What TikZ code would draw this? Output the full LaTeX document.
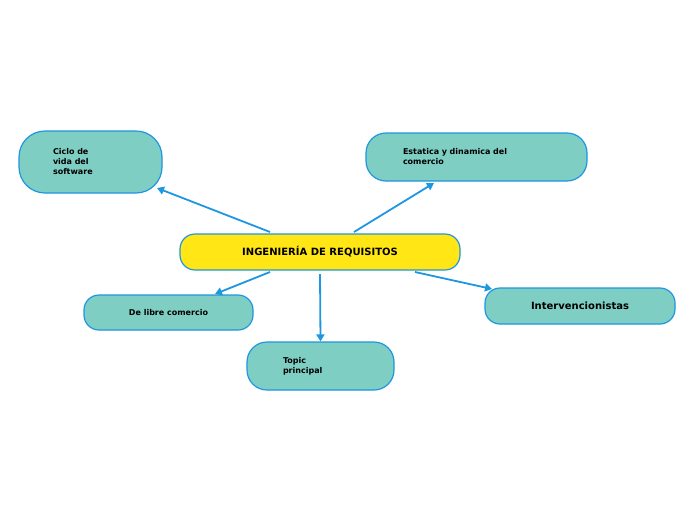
\documentclass[tikz,border=0pt]{standalone}
\usepackage{fontspec}
\setmainfont{DejaVu Sans}
\usetikzlibrary{arrows.meta}
\definecolor{teal1}{HTML}{7ECEC4}
\definecolor{edge1}{HTML}{1E96E0}
\definecolor{yel}{HTML}{FFE614}
\begin{document}
\begin{tikzpicture}[x=1pt,y=-1pt,
  box/.style={draw=edge1,line width=1.2pt,fill=teal1,inner sep=0pt,font=\bfseries\fontsize{8}{10}\selectfont,align=left},
  conn/.style={draw=edge1,line width=1.8pt,-{Triangle[length=7pt,width=8pt]}}]
\useasboundingbox (0,0) rectangle (696,520);
\node[box,fill=yel,minimum width=280pt,minimum height=36pt,rounded corners=15pt,align=center,font=\bfseries\fontsize{10}{12}\selectfont] (c) at (320,252) {INGENIERÍA DE REQUISITOS};
\node[box,minimum width=143pt,minimum height=62pt,rounded corners=26pt,text width=75pt] (a) at (90.5,162) {Ciclo de\\vida del\\software};
\node[box,minimum width=221pt,minimum height=48pt,rounded corners=20pt,text width=147pt] (b) at (476.5,157) {Estatica y dinamica del\\comercio};
\node[box,minimum width=169pt,minimum height=35pt,rounded corners=15pt,align=center] (d) at (168.5,312.5) {De libre comercio};
\node[box,minimum width=147pt,minimum height=48pt,rounded corners=20pt,text width=75pt] (t) at (320.5,366) {Topic\\principal};
\node[box,minimum width=190pt,minimum height=36pt,rounded corners=15pt,align=center,font=\bfseries\fontsize{10}{12}\selectfont] (i) at (580,306) {Intervencionistas};
\coordinate (c1) at (270,232);
\coordinate (c2) at (354,232);
\coordinate (c3) at (270,272);
\coordinate (c4) at (320,274);
\coordinate (c5) at (415,272);
\draw[conn] (c1) -- (157,188);
\draw[conn] (c2) -- (434,183);
\draw[conn] (c3) -- (215,294);
\draw[conn] (c4) -- (t.north);
\draw[conn] (c5) -- (492,289);
\end{tikzpicture}
\end{document}
